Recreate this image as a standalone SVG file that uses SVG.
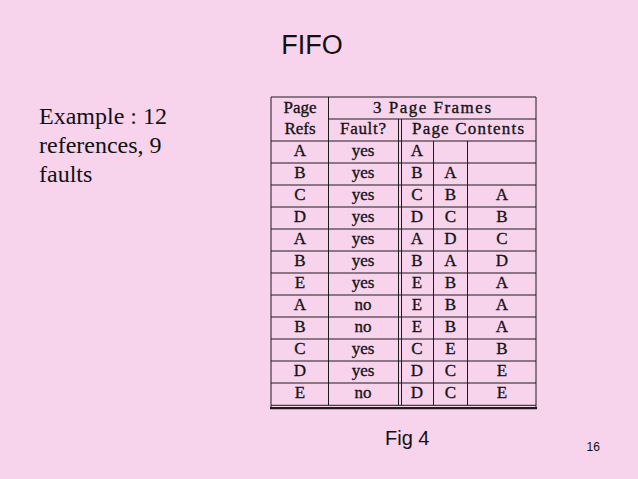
<svg xmlns="http://www.w3.org/2000/svg" width="638" height="479" viewBox="0 0 638 479">
<style>
.bg{fill:#F8D3EC}
.title{font-family:"Liberation Sans",Arial,sans-serif;font-size:27px;fill:#111}
.note{font-family:"Liberation Serif","Times New Roman",serif;font-size:24px;fill:#111}
.cap{font-family:"Liberation Sans",Arial,sans-serif;font-size:20px;fill:#111}
.num{font-family:"Liberation Sans",Arial,sans-serif;font-size:12px;fill:#111}
.t{font-family:"Liberation Serif","Times New Roman",serif;font-size:17px;fill:#151515;stroke:#151515;stroke-width:0.35;text-anchor:middle}
.ln{stroke:#1c1c1c;stroke-width:1;fill:none}
.thick{stroke:#1c1c1c;stroke-width:2.2;fill:none}
</style>
<rect class="bg" x="0" y="0" width="638" height="479"/>
<text id="title" class="title" x="312" y="54" text-anchor="middle">FIFO</text>
<g id="example">
<text class="note" x="39" y="124">Example : 12</text>
<text class="note" x="39" y="153">references, 9</text>
<text class="note" x="39" y="182">faults</text>
</g>
<g id="table">
<g id="grid">
<line class="ln" x1="271" y1="97" x2="536" y2="97"/>
<line class="ln" x1="328.5" y1="119" x2="536" y2="119"/>
<line class="ln" x1="271" y1="141" x2="536" y2="141"/>
<line class="ln" x1="271" y1="163" x2="536" y2="163"/>
<line class="ln" x1="271" y1="185" x2="536" y2="185"/>
<line class="ln" x1="271" y1="207" x2="536" y2="207"/>
<line class="ln" x1="271" y1="229" x2="536" y2="229"/>
<line class="ln" x1="271" y1="251" x2="536" y2="251"/>
<line class="ln" x1="271" y1="273" x2="536" y2="273"/>
<line class="ln" x1="271" y1="295" x2="536" y2="295"/>
<line class="ln" x1="271" y1="317" x2="536" y2="317"/>
<line class="ln" x1="271" y1="339" x2="536" y2="339"/>
<line class="ln" x1="271" y1="361" x2="536" y2="361"/>
<line class="ln" x1="271" y1="383" x2="536" y2="383"/>
<line class="ln" x1="271" y1="405.3" x2="536" y2="405.3"/>
<line class="thick" x1="270" y1="408.2" x2="537" y2="408.2"/>
<line class="ln" x1="271" y1="97" x2="271" y2="408"/>
<line class="ln" x1="536" y1="97" x2="536" y2="408"/>
<line class="ln" x1="328.5" y1="97" x2="328.5" y2="405"/>
<line class="ln" x1="398.5" y1="119" x2="398.5" y2="405"/>
<line class="ln" x1="401.5" y1="119" x2="401.5" y2="405"/>
<line class="ln" x1="433.5" y1="141" x2="433.5" y2="405"/>
<line class="ln" x1="467.5" y1="141" x2="467.5" y2="405"/>
</g>
<g id="header">
<text class="t" x="300" y="113">Page</text>
<text class="t" x="300" y="134">Refs</text>
<text class="t" x="432" y="113" textLength="118" lengthAdjust="spacing">3 Page Frames</text>
<text class="t" x="363" y="134" textLength="46" lengthAdjust="spacing">Fault?</text>
<text class="t" x="468" y="134" textLength="112" lengthAdjust="spacing">Page Contents</text>
</g>
<g id="rows">
<text class="t" x="300" y="156">A</text><text class="t" x="363" y="156">yes</text><text class="t" x="417" y="156">A</text>
<text class="t" x="300" y="178">B</text><text class="t" x="363" y="178">yes</text><text class="t" x="417" y="178">B</text><text class="t" x="450.5" y="178">A</text>
<text class="t" x="300" y="200">C</text><text class="t" x="363" y="200">yes</text><text class="t" x="417" y="200">C</text><text class="t" x="450.5" y="200">B</text><text class="t" x="502" y="200">A</text>
<text class="t" x="300" y="222">D</text><text class="t" x="363" y="222">yes</text><text class="t" x="417" y="222">D</text><text class="t" x="450.5" y="222">C</text><text class="t" x="502" y="222">B</text>
<text class="t" x="300" y="244">A</text><text class="t" x="363" y="244">yes</text><text class="t" x="417" y="244">A</text><text class="t" x="450.5" y="244">D</text><text class="t" x="502" y="244">C</text>
<text class="t" x="300" y="266">B</text><text class="t" x="363" y="266">yes</text><text class="t" x="417" y="266">B</text><text class="t" x="450.5" y="266">A</text><text class="t" x="502" y="266">D</text>
<text class="t" x="300" y="288">E</text><text class="t" x="363" y="288">yes</text><text class="t" x="417" y="288">E</text><text class="t" x="450.5" y="288">B</text><text class="t" x="502" y="288">A</text>
<text class="t" x="300" y="310">A</text><text class="t" x="363" y="310">no</text><text class="t" x="417" y="310">E</text><text class="t" x="450.5" y="310">B</text><text class="t" x="502" y="310">A</text>
<text class="t" x="300" y="332">B</text><text class="t" x="363" y="332">no</text><text class="t" x="417" y="332">E</text><text class="t" x="450.5" y="332">B</text><text class="t" x="502" y="332">A</text>
<text class="t" x="300" y="354">C</text><text class="t" x="363" y="354">yes</text><text class="t" x="417" y="354">C</text><text class="t" x="450.5" y="354">E</text><text class="t" x="502" y="354">B</text>
<text class="t" x="300" y="376">D</text><text class="t" x="363" y="376">yes</text><text class="t" x="417" y="376">D</text><text class="t" x="450.5" y="376">C</text><text class="t" x="502" y="376">E</text>
<text class="t" x="300" y="398">E</text><text class="t" x="363" y="398">no</text><text class="t" x="417" y="398">D</text><text class="t" x="450.5" y="398">C</text><text class="t" x="502" y="398">E</text>
</g>
</g>
<text id="caption" class="cap" x="385" y="445">Fig 4</text>
<text id="pagenum" class="num" x="586.5" y="451">16</text>
</svg>
